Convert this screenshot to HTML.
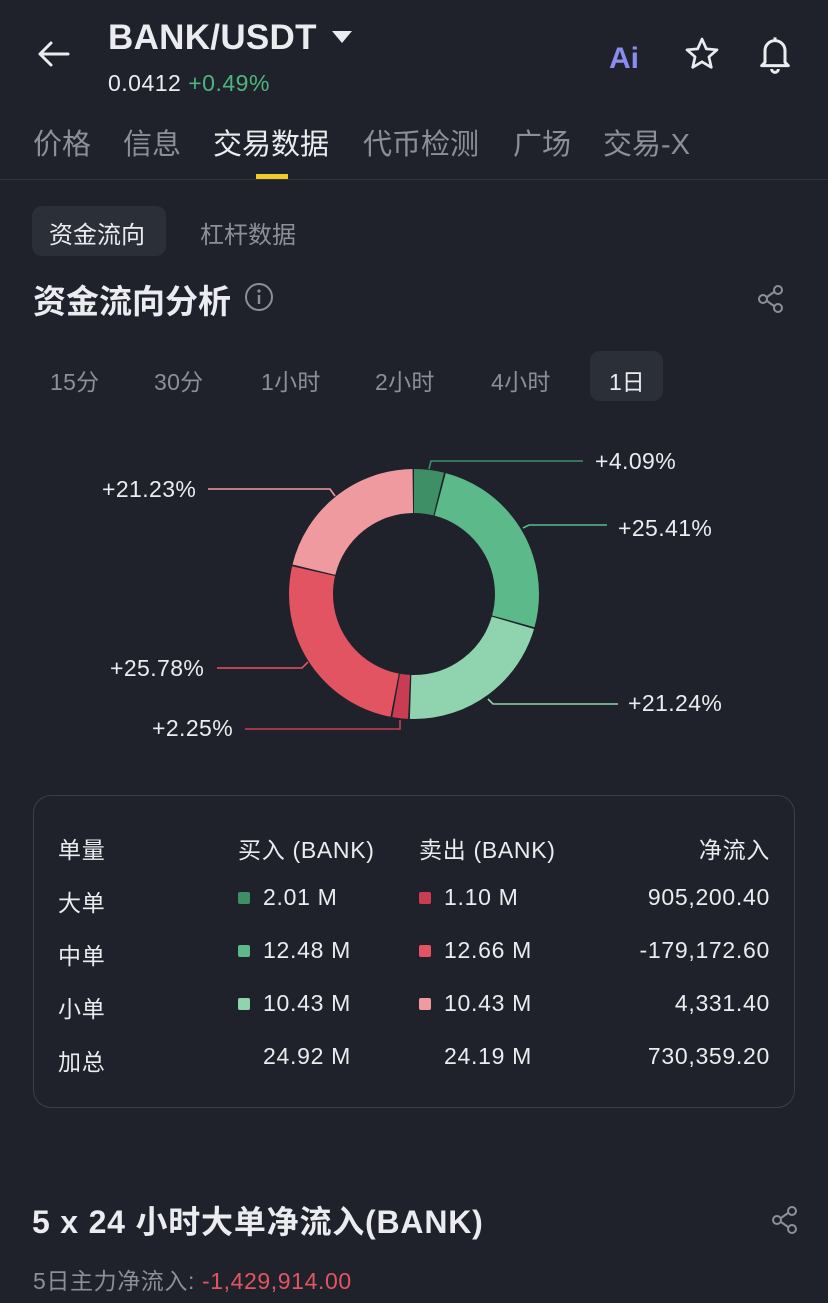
<!DOCTYPE html>
<html><head><meta charset="utf-8"><style>
*{margin:0;padding:0;box-sizing:border-box}
body{width:828px;height:1303px;background:#1f222a;font-family:"Liberation Sans","Noto Sans CJK SC",sans-serif;color:#eaecef;position:relative;overflow:hidden}
.a{position:absolute;white-space:nowrap}
.g{color:#8b8f98}
.tab{font-size:29px;top:121px}
.tf{font-size:23px;top:363px;color:#8b8f98;letter-spacing:0.3px}
.row{font-size:23px;letter-spacing:0.7px}
.sq{display:inline-block;width:12px;height:12px;border-radius:2px;margin-right:13px;vertical-align:1px}
.lbl{font-size:23px;color:#eaecef;letter-spacing:0.4px}
</style></head><body>
<svg class="a" style="left:36px;top:40px" width="34" height="28" viewBox="0 0 34 28"><path d="M32 14H4M15 3L4 14l11 11" stroke="#eaecef" stroke-width="3" fill="none" stroke-linecap="round" stroke-linejoin="round"/></svg>
<div class="a" style="left:108px;top:18px;font-size:35px;font-weight:bold;letter-spacing:0.3px">BANK/USDT</div>
<svg class="a" style="left:332px;top:31px" width="20" height="13"><path d="M0 0h20L10 12z" fill="#eaecef"/></svg>
<div class="a" style="left:108px;top:70px;font-size:23px;letter-spacing:0.5px">0.0412 <span style="color:#4fb47c">+0.49%</span></div>
<div class="a" style="left:609px;top:42px;font-size:30px;font-weight:bold;color:#8a8cf0">Ai</div>
<svg class="a" style="left:683px;top:36px" width="38" height="36" viewBox="0 0 24 24"><path d="M12 2l2.9 6.6 7.1.6-5.4 4.7 1.6 7-6.2-3.7-6.2 3.7 1.6-7L2 9.2l7.1-.6z" stroke="#eaecef" stroke-width="1.8" fill="none" stroke-linejoin="round"/></svg>
<svg class="a" style="left:755px;top:34px" width="40" height="40" viewBox="0 0 24 24"><path d="M6 17V10a6 6 0 0112 0v7l2 2H4zM10 21a2 2 0 004 0M12 2v2" stroke="#eaecef" stroke-width="1.8" fill="none" stroke-linejoin="round"/></svg>
<div class="a tab g" style="left:33px">价格</div>
<div class="a tab g" style="left:123px">信息</div>
<div class="a tab" style="left:213px">交易数据</div>
<div class="a tab g" style="left:363px">代币检测</div>
<div class="a tab g" style="left:513px">广场</div>
<div class="a tab g" style="left:603px">交易-X</div>
<div class="a" style="left:256px;top:174px;width:32px;height:5px;background:#f0c92b"></div>
<div class="a" style="left:0;top:179px;width:828px;height:1px;background:#30343c"></div>
<div class="a" style="left:32px;top:206px;width:134px;height:50px;border-radius:10px;background:#2b2f38"></div>
<div class="a" style="left:49px;top:215px;font-size:24px">资金流向</div>
<div class="a g" style="left:200px;top:215px;font-size:24px">杠杆数据</div>
<div class="a" style="left:33px;top:275px;font-size:33px;font-weight:bold">资金流向分析</div>
<svg class="a" style="left:244px;top:282px" width="30" height="30"><circle cx="15" cy="15" r="13" stroke="#8b8f98" stroke-width="2" fill="none"/><path d="M15 13v9" stroke="#8b8f98" stroke-width="2.4"/><circle cx="15" cy="9" r="1.6" fill="#8b8f98"/></svg>
<svg class="a" style="left:756px;top:284px" width="30" height="30" viewBox="0 0 30 30"><g stroke="#8b8f98" stroke-width="2" fill="none"><circle cx="22" cy="6" r="4"/><circle cx="7" cy="15" r="4"/><circle cx="22" cy="24" r="4"/><path d="M11 13l7-5M11 17l7 5"/></g></svg>
<div class="a tf" style="left:50px">15分</div>
<div class="a tf" style="left:154px">30分</div>
<div class="a tf" style="left:261px">1小时</div>
<div class="a tf" style="left:375px">2小时</div>
<div class="a tf" style="left:491px">4小时</div>
<div class="a" style="left:590px;top:351px;width:73px;height:50px;border-radius:10px;background:#2b2f38"></div>
<div class="a" style="left:609px;top:363px;font-size:23px">1日</div>
<svg class="a" style="left:0;top:0" width="828" height="780">
<g transform="rotate(-90 414 594)" fill="none" stroke-width="44">
<circle cx="414" cy="594" r="103" stroke="#3f8f66" stroke-dasharray="24.97 647.2" stroke-dashoffset="0"/>
<circle cx="414" cy="594" r="103" stroke="#5bb98a" stroke-dasharray="162.95 647.2" stroke-dashoffset="-26.47"/>
<circle cx="414" cy="594" r="103" stroke="#8fd4ae" stroke-dasharray="135.96 647.2" stroke-dashoffset="-190.92"/>
<circle cx="414" cy="594" r="103" stroke="#c83d52" stroke-dasharray="13.06 647.2" stroke-dashoffset="-328.38"/>
<circle cx="414" cy="594" r="103" stroke="#e35462" stroke-dasharray="165.35 647.2" stroke-dashoffset="-342.94"/>
<circle cx="414" cy="594" r="103" stroke="#ef9a9f" stroke-dasharray="135.9 647.2" stroke-dashoffset="-509.79"/>
</g>
<g fill="none" stroke-width="1.6">
<path d="M429 469l2-8h152" stroke="#3f8f66"/>
<path d="M523 528l6-3h78" stroke="#5bb98a"/>
<path d="M488 699l5 5h125" stroke="#8fd4ae"/>
<path d="M400 720v9H245" stroke="#c83d52"/>
<path d="M308 662l-6 6h-85" stroke="#e35462"/>
<path d="M335 496l-5-7H208" stroke="#ef9a9f"/>
</g>
</svg>
<div class="a lbl" style="left:595px;top:448px">+4.09%</div>
<div class="a lbl" style="left:618px;top:515px">+25.41%</div>
<div class="a lbl" style="left:628px;top:690px">+21.24%</div>
<div class="a lbl" style="left:152px;top:715px">+2.25%</div>
<div class="a lbl" style="left:110px;top:655px">+25.78%</div>
<div class="a lbl" style="left:102px;top:476px">+21.23%</div>
<div class="a" style="left:33px;top:795px;width:762px;height:313px;border:1.5px solid #3a3e47;border-radius:18px"></div>
<div class="a row" style="left:58px;top:831px">单量</div>
<div class="a row" style="left:238px;top:831px">买入 (BANK)</div>
<div class="a row" style="left:419px;top:831px">卖出 (BANK)</div>
<div class="a row" style="right:58px;top:831px">净流入</div>
<div class="a row" style="left:58px;top:884px">大单</div>
<div class="a row" style="left:238px;top:884px"><span class="sq" style="background:#3f8f66"></span>2.01 M</div>
<div class="a row" style="left:419px;top:884px"><span class="sq" style="background:#c83d52"></span>1.10 M</div>
<div class="a row" style="right:58px;top:884px">905,200.40</div>
<div class="a row" style="left:58px;top:937px">中单</div>
<div class="a row" style="left:238px;top:937px"><span class="sq" style="background:#5bb98a"></span>12.48 M</div>
<div class="a row" style="left:419px;top:937px"><span class="sq" style="background:#e35462"></span>12.66 M</div>
<div class="a row" style="right:58px;top:937px">-179,172.60</div>
<div class="a row" style="left:58px;top:990px">小单</div>
<div class="a row" style="left:238px;top:990px"><span class="sq" style="background:#8fd4ae"></span>10.43 M</div>
<div class="a row" style="left:419px;top:990px"><span class="sq" style="background:#ef9a9f"></span>10.43 M</div>
<div class="a row" style="right:58px;top:990px">4,331.40</div>
<div class="a row" style="left:58px;top:1043px">加总</div>
<div class="a row" style="left:263px;top:1043px">24.92 M</div>
<div class="a row" style="left:444px;top:1043px">24.19 M</div>
<div class="a row" style="right:58px;top:1043px">730,359.20</div>
<div class="a" style="left:32px;top:1197px;font-size:32px;font-weight:bold;letter-spacing:0.8px">5 x 24 小时大单净流入(BANK)</div>
<svg class="a" style="left:770px;top:1205px" width="30" height="30" viewBox="0 0 30 30"><g stroke="#8b8f98" stroke-width="2" fill="none"><circle cx="22" cy="6" r="4"/><circle cx="7" cy="15" r="4"/><circle cx="22" cy="24" r="4"/><path d="M11 13l7-5M11 17l7 5"/></g></svg>
<div class="a g" style="left:33px;top:1262px;font-size:23px;letter-spacing:0.6px">5日主力净流入: <span style="color:#e35462">-1,429,914.00</span></div>
</body></html>
